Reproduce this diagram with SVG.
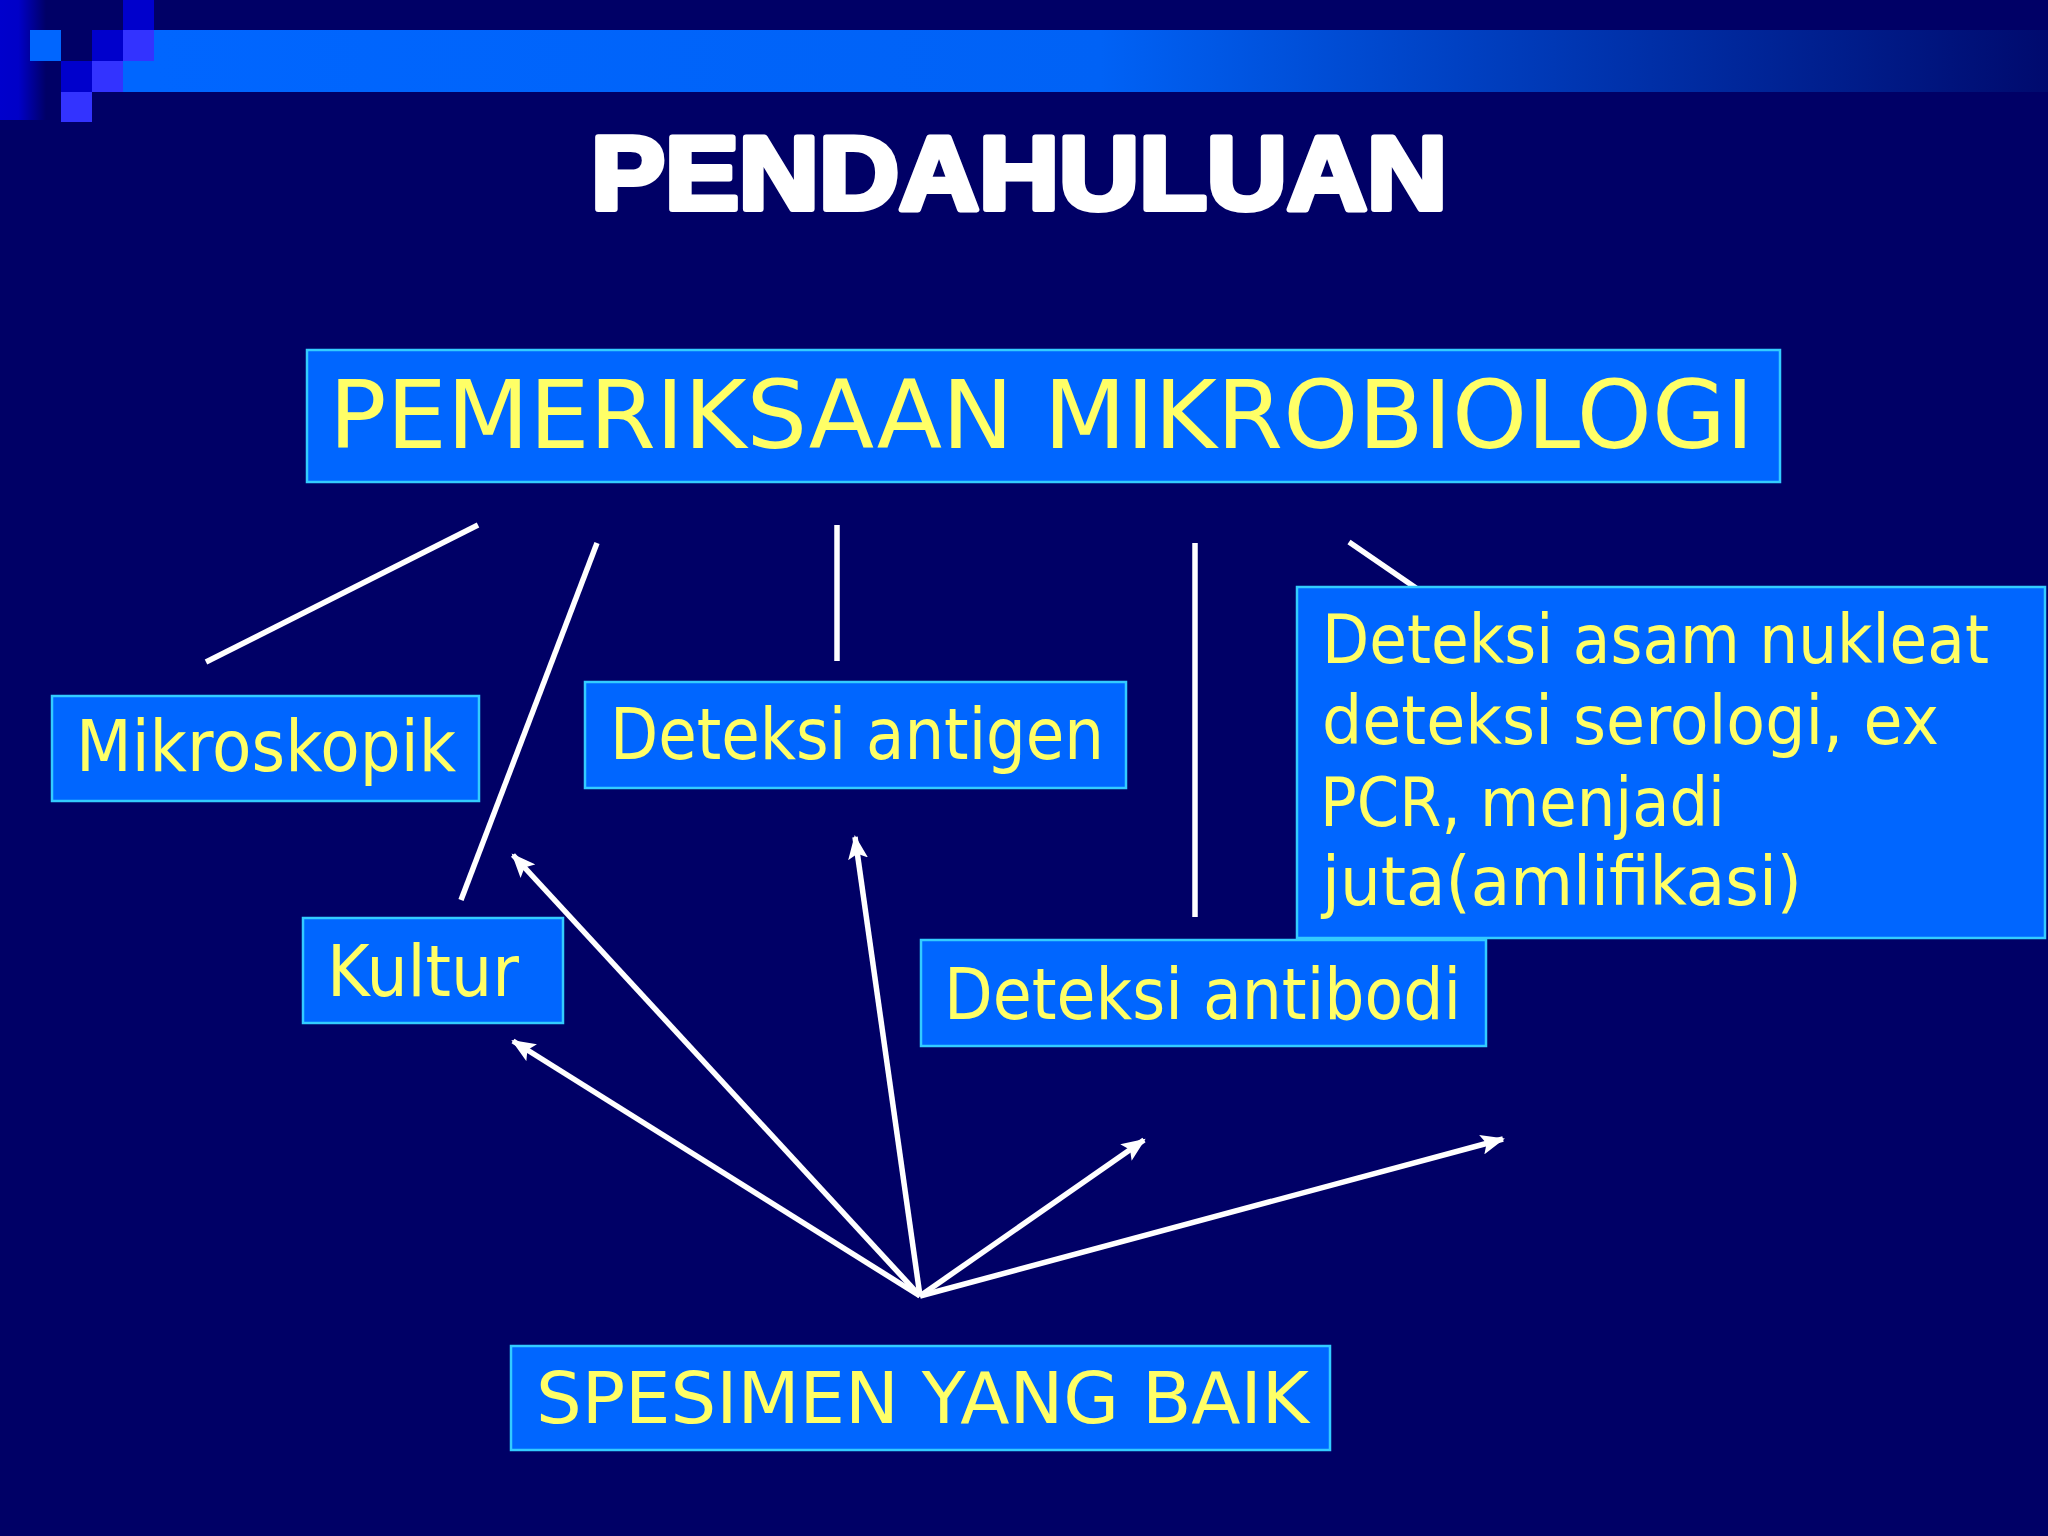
<svg xmlns="http://www.w3.org/2000/svg" width="2048" height="1536" viewBox="0 0 2048 1536">
<defs>
<linearGradient id="bar" x1="0" y1="0" x2="1" y2="0">
<stop offset="0" stop-color="#0066FF"/>
<stop offset="0.5" stop-color="#0062F6"/>
<stop offset="1" stop-color="#000A6E"/>
</linearGradient>
<linearGradient id="col" x1="0" y1="0" x2="1" y2="0">
<stop offset="0" stop-color="#0000CC"/>
<stop offset="0.4" stop-color="#0000C8"/>
<stop offset="1" stop-color="#000066"/>
</linearGradient>
<marker id="ah" markerUnits="userSpaceOnUse" markerWidth="26" markerHeight="20" refX="22" refY="10" orient="auto">
<path d="M0,0 L24,10 L0,20 L5,10 Z" fill="#FFFFFF"/>
</marker>
<style>
.box{fill:#0066FF;stroke:#33CCFF;stroke-width:2.5}
.lbl{font-family:"Comic Sans MS","DejaVu Sans",sans-serif;fill:#FFFF66}
.ln{stroke:#FFFFFF;stroke-width:5.5;fill:none}
</style>
</defs>
<rect width="2048" height="1536" fill="#000066"/>
<g id="decoration">
<rect x="0" y="0" width="46" height="120" fill="url(#col)"/>
<rect x="153" y="30" width="1895" height="62" fill="url(#bar)"/>
<rect x="123" y="61" width="31" height="31" fill="#0066FF"/>
<rect x="30" y="30" width="31" height="31" fill="#0066FF"/>
<rect x="61" y="61" width="31" height="31" fill="#0000CC"/>
<rect x="92" y="30" width="31" height="31" fill="#0000CC"/>
<rect x="123" y="0" width="31" height="30" fill="#0000CC"/>
<rect x="123" y="30" width="31" height="31" fill="#3333FF"/>
<rect x="92" y="61" width="31" height="31" fill="#3333FF"/>
<rect x="61" y="92" width="31" height="30" fill="#3333FF"/>
</g>
<text id="title" x="1019" y="209" text-anchor="middle" font-family="'Liberation Sans',Arial,sans-serif" font-weight="900" font-size="103" fill="#FFFFFF" stroke="#FFFFFF" stroke-width="6" stroke-linejoin="round" textLength="856" lengthAdjust="spacingAndGlyphs">PENDAHULUAN</text>
<g id="connectors">
<line class="ln" x1="478" y1="525" x2="206" y2="662"/>
<line class="ln" x1="597" y1="543" x2="461" y2="900"/>
<line class="ln" x1="837" y1="525" x2="837" y2="661"/>
<line class="ln" x1="1195" y1="543" x2="1195" y2="917"/>
<line class="ln" x1="1349" y1="542" x2="1416" y2="588"/>
<line class="ln" x1="920" y1="1296" x2="513" y2="1041" marker-end="url(#ah)"/>
<line class="ln" x1="920" y1="1296" x2="513" y2="855" marker-end="url(#ah)"/>
<line class="ln" x1="920" y1="1296" x2="855" y2="837" marker-end="url(#ah)"/>
<line class="ln" x1="920" y1="1296" x2="1144" y2="1140" marker-end="url(#ah)"/>
<line class="ln" x1="920" y1="1296" x2="1503" y2="1139" marker-end="url(#ah)"/>
</g>
<g id="node-pemeriksaan">
<rect class="box" x="307" y="350" width="1473" height="132"/>
<text class="lbl" x="329" y="448" font-size="94" textLength="1425" lengthAdjust="spacingAndGlyphs">PEMERIKSAAN MIKROBIOLOGI</text>
</g>
<g id="node-mikroskopik">
<rect class="box" x="52" y="696" width="427" height="105"/>
<text class="lbl" x="76" y="771" font-size="72" textLength="380" lengthAdjust="spacingAndGlyphs">Mikroskopik</text>
</g>
<g id="node-kultur">
<rect class="box" x="303" y="918" width="260" height="105"/>
<text class="lbl" x="327" y="996" font-size="72" textLength="192" lengthAdjust="spacingAndGlyphs">Kultur</text>
</g>
<g id="node-antigen">
<rect class="box" x="585" y="682" width="541" height="106"/>
<text class="lbl" x="610" y="759" font-size="72" textLength="494" lengthAdjust="spacingAndGlyphs">Deteksi antigen</text>
</g>
<g id="node-antibodi">
<rect class="box" x="921" y="940" width="565" height="106"/>
<text class="lbl" x="944" y="1019" font-size="72" textLength="517" lengthAdjust="spacingAndGlyphs">Deteksi antibodi</text>
</g>
<g id="node-asam-nukleat">
<rect class="box" x="1297" y="587" width="748" height="351"/>
<text class="lbl" x="1322" y="663" font-size="68" textLength="667" lengthAdjust="spacingAndGlyphs">Deteksi asam nukleat</text>
<text class="lbl" x="1322" y="744" font-size="68" textLength="617" lengthAdjust="spacingAndGlyphs">deteksi serologi, ex</text>
<text class="lbl" x="1320" y="826" font-size="68" textLength="405" lengthAdjust="spacingAndGlyphs">PCR, menjadi</text>
<text class="lbl" x="1322" y="905" font-size="68" textLength="480" lengthAdjust="spacingAndGlyphs">juta(amlifikasi)</text>
</g>
<g id="node-spesimen">
<rect class="box" x="511" y="1346" width="819" height="104"/>
<text class="lbl" x="536" y="1423" font-size="72" textLength="773" lengthAdjust="spacingAndGlyphs">SPESIMEN YANG BAIK</text>
</g>
</svg>
